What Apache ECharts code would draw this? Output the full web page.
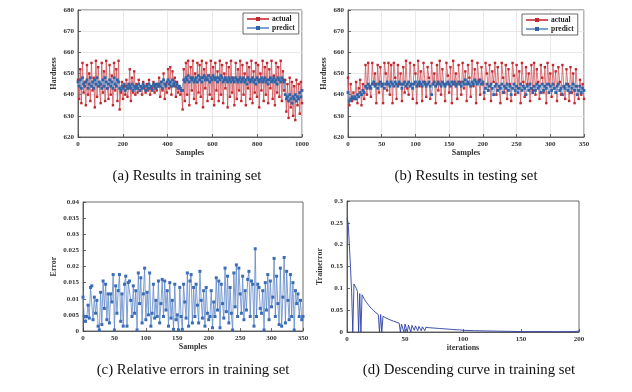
<!DOCTYPE html>
<html><head><meta charset="utf-8">
<script src="https://cdn.jsdelivr.net/npm/echarts@6/dist/echarts.min.js"></script>
<style>html,body{margin:0;padding:0;background:#fff}#c{width:632px;height:392px}</style>
</head><body><div id="c"></div>
<script>
// ---- (a) training set: actual vs predict (sampled every ~5 samples) ----
const trainActual = [
647,638,652,636,655,641,646,635,654,640,650,637,655,642,648,634,656,639,653,644,636,655,641,651,637,656,643,638,654,640,649,635,655,642,652,637,656,633,
641,646,638,644,640,647,639,643,652,637,648,641,651,640,
645,641,647,642,644,640,646,643,641,645,642,647,640,644,643,646,641,645,642,644,
648,639,646,642,650,638,645,641,652,643,653,640,651,644,648,639,646,641,644,640,642,633,
652,637,655,640,656,635,653,642,656,638,650,636,655,641,654,639,656,634,652,643,
655,637,649,640,656,638,653,635,655,642,651,637,656,640,654,636,650,643,655,634,
653,639,656,641,648,635,655,638,652,642,656,637,654,640,650,635,655,643,653,638,
656,636,651,641,655,639,654,634,650,642,656,637,653,640,655,636,652,643,656,638,
649,635,655,641,653,639,656,637,651,642,
647,632,645,629,648,634,646,630,644,628,647,635,645,631,646,636];
const trainPredict = [
646,644,647,643,648,645,644,646,647,643,645,648,644,646,643,647,645,648,644,646,645,643,647,644,648,646,643,645,647,644,646,643,648,645,644,647,646,643,
642,644,643,645,642,644,643,645,644,643,645,642,644,643,
644,643,645,642,644,643,645,644,642,644,643,645,643,644,642,645,644,643,645,644,
645,644,646,643,647,645,644,646,647,645,646,644,647,645,646,644,645,643,644,643,642,642,
647,646,648,647,649,646,648,647,648,646,647,648,646,649,647,648,646,648,649,647,
648,647,649,646,648,647,649,648,647,648,646,648,647,649,648,646,647,648,647,646,
648,647,646,648,647,646,648,647,646,647,648,646,647,648,646,647,645,648,647,646,
647,648,646,647,645,648,647,646,647,648,646,647,648,646,647,645,647,648,646,647,
648,646,647,645,648,647,646,648,647,646,
640,638,639,637,640,638,636,639,638,640,637,639,638,641,639,642];

// ---- (b) testing set (every 2nd sample) ----
const testActual = [
648,635,645,637,641,638,646,636,643,647,635,645,638,
654,640,655,643,639,655,645,650,636,654,641,653,645,636,655,650,642,655,640,654,636,655,648,638,654,645,650,637,653,641,
656,643,640,655,645,638,654,650,636,656,644,651,637,655,646,639,653,648,638,655,
645,650,636,654,642,656,640,652,645,637,655,649,641,653,636,656,645,650,638,654,
646,640,655,643,651,637,654,648,639,656,644,652,636,655,647,640,653,645,638,655,
650,642,654,637,651,646,655,640,653,644,636,655,648,641,654,638,652,645,637,655,
649,640,654,643,651,636,655,646,639,653,645,650,637,654,642,655,640,652,646,638,
654,648,641,653,636,655,645,650,639,654,643,651,637,653,646,640,654,644,638,652,
645,637,653,641,650,636,652,644,638,647,640,645,638];
const testPredict = [
641,637,638,639,638,639,638,640,639,641,640,642,641,
644,643,645,644,643,645,646,644,645,643,645,646,644,645,643,645,646,645,644,646,
645,644,646,645,644,646,645,643,645,646,644,645,646,644,645,643,645,646,644,645,
646,645,644,646,645,644,645,646,644,640,645,646,644,645,646,645,644,646,645,644,
645,646,645,644,646,645,646,644,645,646,645,644,646,645,647,645,646,645,644,646,
645,647,646,645,646,647,645,646,
641,643,645,642,644,645,643,640,644,645,642,644,643,645,641,644,643,645,642,644,
640,643,645,642,644,641,643,645,642,644,643,640,644,642,645,643,641,644,642,645,
643,644,641,645,642,644,643,645,641,644,642,645,643,641,644,645,642,643,640,644,
643,645,642,644,641,643,645,642,644,640,642,644,641,643,642];

// ---- (c) relative errors (every 2nd sample) ----
const relErrors = [
0.0105,0.0045,0.003,0.0045,0.008,0.004,0.0135,0.014,0.0035,0.0105,0.0055,0.0095,0.0015,0.0003,0.012,0.002,0.0155,0.007,0.0145,0.0035,
0.0115,0.0025,0.0115,0.009,0.0175,0.0003,0.014,0.0055,0.0125,0.0175,0.003,0.0115,0.0015,0.0145,0.017,0.0015,0.015,0.0155,0.0095,0.0045,
0.014,0.0055,0.0125,0.0003,0.018,0.0085,0.0165,0.0025,0.0115,0.0195,0.0035,0.012,0.005,0.018,0.0015,0.0055,0.0145,0.004,0.0095,0.0045,
0.0155,0.0025,0.0085,0.016,0.0045,0.0155,0.0065,0.0125,0.0015,0.015,0.004,0.0095,0.0005,0.0145,0.0035,0.005,0.0003,0.0135,0.0045,0.0005,
0.0145,0.009,0.004,0.018,0.0015,0.0155,0.0175,0.0025,0.0135,0.0045,0.0145,0.008,0.0025,0.0185,0.0095,0.004,0.0125,0.0015,0.0135,0.0055,
0.0035,0.0045,0.0125,0.001,0.009,0.0045,0.0165,0.0065,0.0155,0.001,0.0145,0.0085,0.004,0.0195,0.006,0.017,0.0025,0.0135,0.0055,0.0003,
0.018,0.0075,0.0205,0.0045,0.0195,0.0115,0.0055,0.017,0.0035,0.0125,0.0065,0.016,0.0185,0.0045,0.0155,0.0145,0.0015,0.0255,0.0045,0.0145,
0.0135,0.007,0.0055,0.0125,0.0003,0.015,0.0065,0.0175,0.0035,0.0155,0.0075,0.0105,0.0225,0.0045,0.017,0.0085,0.002,0.0195,0.0015,0.0105,
0.0228,0.0025,0.0185,0.0095,0.0035,0.0175,0.0045,0.015,0.0003,0.0125,0.0085,0.0115,0.0045,0.0095,0.0035,0.0045];

// ---- (d) descending curve ----
const iterations = [0,1,2,3,4,5,6,7,8,9,10,11,12,13,15,17,19,21,23,25,27,28,29,30,31,33,36,40,45,46,47,49,50,52,53,55,56,58,59,61,62,64,65,67,68,70,80,90,95,96,97,100,110,120,130,150,180,195,200];
const trainError = [0.26,0.25,0.2,0.15,0.09,0,0.11,0.105,0.1,0.093,0,0.088,0,0.085,0.075,0.067,0.06,0.054,0.049,0.044,0.04,0,0.04,0,0.036,0.033,0.029,0.025,0.02,0,0.018,0,0.018,0,0.016,0,0.015,0.004,0.014,0.003,0.013,0.003,0.012,0.003,0.011,0.01,0.008,0.006,0.005,0.002,0.005,0.004,0.003,0.0025,0.002,0.001,0.0007,0.0008,0.002];

const trainX = trainActual.map((_, i) => Math.round(i * 1000 / (trainActual.length - 1)));
const testX = testActual.map((_, i) => i * 2);
const errX = relErrors.map((_, i) => i * 2);

const zip = (xs, ys) => xs.map((x, i) => [x, ys[i]]);

const FONT = '"Liberation Serif", "DejaVu Serif", serif';
const RED = '#c1272d', RED_LINE = '#d0555c', BLUE = '#2f64a8', BLUE_LINE = '#7fa3cf';
const tickLbl = { fontFamily: FONT, fontWeight: 'bold', fontSize: 7, color: '#333', margin: 4, formatter: v => String(v) };
const nameTxt = { fontFamily: FONT, fontWeight: 'bold', fontSize: 8, color: '#333' };
const axLine = { show: true, lineStyle: { color: '#444', width: 0.8 } };
const tick = { show: true, inside: true, length: 3, lineStyle: { color: '#444', width: 0.8 } };
const grid = (show) => ({ show: show, lineStyle: { color: '#e3e3e3', width: 0.8 } });

function xAx(idx, max, interval, name, gridOn) {
  return { type: 'value', gridIndex: idx, min: 0, max: max, interval: interval, name: name,
    nameLocation: 'middle', nameGap: 10, nameTextStyle: nameTxt, axisLabel: tickLbl,
    axisLine: axLine, axisTick: tick, splitLine: grid(gridOn) };
}
function yAx(idx, min, max, interval, name, gap, gridOn) {
  return { type: 'value', gridIndex: idx, min: min, max: max, interval: interval, name: name,
    nameLocation: 'middle', nameGap: gap, nameTextStyle: nameTxt, axisLabel: tickLbl,
    axisLine: axLine, axisTick: tick, splitLine: grid(gridOn) };
}
const gb = { show: true, borderColor: '#444', borderWidth: 0.8, backgroundColor: 'transparent' };

const legendBase = { orient: 'vertical', data: ['actual', 'predict'], itemGap: 1, padding: [2, 4, 2, 3],
  itemWidth: 22, itemHeight: 5, backgroundColor: '#fff', borderColor: '#444', borderWidth: 0.8,
  textStyle: { fontFamily: FONT, fontWeight: 'bold', fontSize: 7.5, color: '#222', padding: [0, 0, 0, -2] } };

function actualSeries(xi, data) {
  return { name: 'actual', type: 'line', xAxisIndex: xi, yAxisIndex: xi, data: data,
    symbol: 'rect', symbolSize: 2.4, itemStyle: { color: RED },
    lineStyle: { color: RED_LINE, width: 0.8 }, emphasis: { disabled: true } };
}
function predictSeries(xi, data) {
  return { name: 'predict', type: 'line', xAxisIndex: xi, yAxisIndex: xi, data: data,
    symbol: 'rect', symbolSize: 2.8, itemStyle: { color: BLUE },
    lineStyle: { color: BLUE_LINE, width: 0.9 }, emphasis: { disabled: true } };
}

const capStyle = { fontFamily: FONT, fontSize: 14.8, fill: '#111', textAlign: 'center', textVerticalAlign: 'middle' };

const option = {
  animation: false,
  grid: [
    Object.assign({ left: 78, top: 10, width: 224, height: 127 }, gb),
    Object.assign({ left: 348, top: 10, width: 236, height: 127 }, gb),
    Object.assign({ left: 83, top: 202, width: 220, height: 129 }, gb),
    Object.assign({ left: 347, top: 201, width: 232, height: 131 }, gb)
  ],
  xAxis: [
    xAx(0, 1000, 200, 'Samples', true),
    xAx(1, 350, 50, 'Samples', true),
    xAx(2, 350, 50, 'Samples', false),
    xAx(3, 200, 50, 'iterations', false)
  ],
  yAxis: [
    yAx(0, 620, 680, 10, 'Hardness', 20, true),
    yAx(1, 620, 680, 10, 'Hardness', 20, true),
    yAx(2, 0, 0.04, 0.005, 'Error', 25, false),
    yAx(3, 0, 0.3, 0.05, 'Trainerror', 23, false)
  ],
  legend: [
    Object.assign({ left: 243, top: 13 }, legendBase),
    Object.assign({ left: 522, top: 14 }, legendBase)
  ],
  series: [
    actualSeries(0, zip(trainX, trainActual)),
    predictSeries(0, zip(trainX, trainPredict)),
    actualSeries(1, zip(testX, testActual)),
    predictSeries(1, zip(testX, testPredict)),
    { name: 'error', type: 'line', xAxisIndex: 2, yAxisIndex: 2, data: zip(errX, relErrors),
      symbol: 'rect', symbolSize: 3, itemStyle: { color: '#3a6cb8' },
      lineStyle: { color: '#5f88c8', width: 0.8 }, emphasis: { disabled: true } },
    { name: 'trainerror', type: 'line', xAxisIndex: 3, yAxisIndex: 3, data: zip(iterations, trainError),
      symbol: 'none', lineStyle: { color: '#2b3fa6', width: 0.9 }, emphasis: { disabled: true } }
  ],
  graphic: [
    { type: 'text', style: Object.assign({ text: '(a) Results in training set', x: 187, y: 176 }, capStyle) },
    { type: 'text', style: Object.assign({ text: '(b) Results in testing set', x: 466, y: 176 }, capStyle) },
    { type: 'text', style: Object.assign({ text: '(c) Relative errors in training set', x: 193, y: 370 }, capStyle) },
    { type: 'text', style: Object.assign({ text: '(d) Descending curve in training set', x: 469, y: 370 }, capStyle) }
  ]
};

const chart = echarts.init(document.getElementById('c'), null, { renderer: 'canvas' });
chart.setOption(option);
</script></body></html>
